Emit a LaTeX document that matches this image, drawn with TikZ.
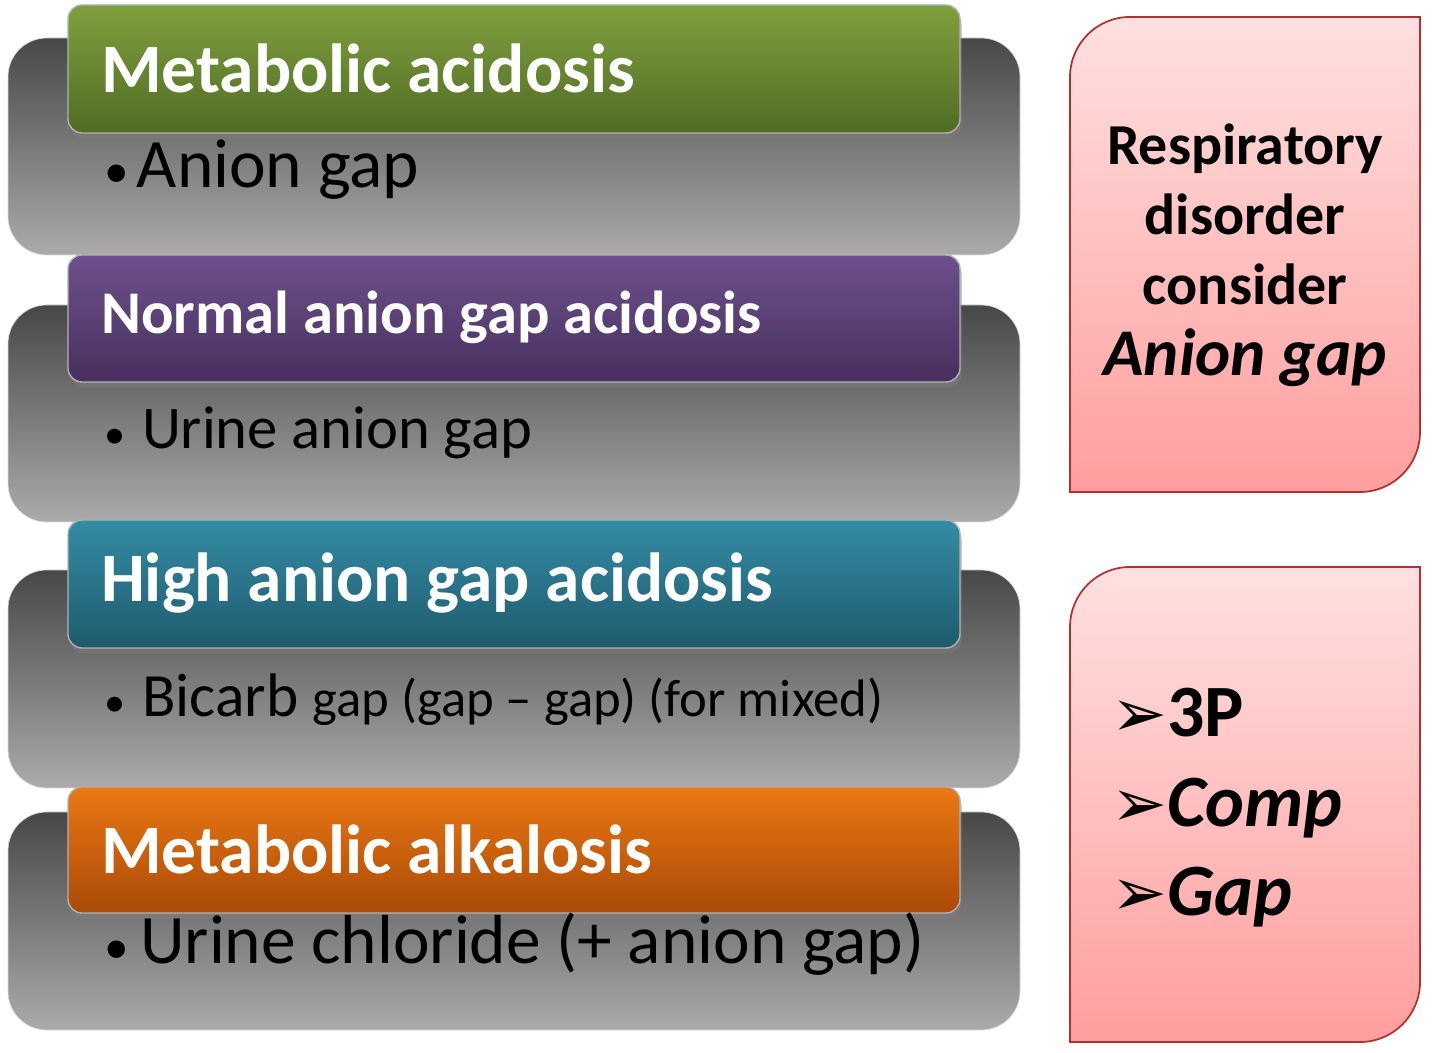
\documentclass[tikz,border=0pt]{standalone}
\usepackage{fontspec}
\setmainfont{Carlito}
\newfontfamily\dvs{DejaVu Sans}
\usetikzlibrary{shadows}
\begin{document}
\begin{tikzpicture}[x=0.02cm,y=-0.02cm,
  greybox/.style={rounded corners=22pt,top color=black!72,bottom color=black!33,draw=black!15},
  hdr/.style={rounded corners=8pt,draw=white!70!black,line width=0.8pt,drop shadow={shadow xshift=1pt,shadow yshift=-3pt,opacity=0.4}},
  hdrtext/.style={anchor=west,text=white,font=\bfseries},
  bul/.style={anchor=west,text=black},
  pinkbox/.style={top color=red!12,bottom color=red!38,draw=red!60!black!80,line width=1pt}]
\useasboundingbox (0,0) rectangle (1441,1053);
% grey boxes
\path[greybox] (8,38) rectangle (1020,255);
\path[greybox] (8,305) rectangle (1020,522);
\path[greybox] (8,570) rectangle (1020,788);
\path[greybox] (8,812) rectangle (1020,1030);
% headers
\path[hdr,top color={rgb,255:red,128;green,160;blue,62},bottom color={rgb,255:red,80;green,108;blue,36}] (68,5) rectangle (960,133);
\path[hdr,top color={rgb,255:red,110;green,80;blue,140},bottom color={rgb,255:red,70;green,48;blue,94}] (68,255) rectangle (960,382);
\path[hdr,top color={rgb,255:red,52;green,140;blue,165},bottom color={rgb,255:red,30;green,90;blue,108}] (68,520) rectangle (960,648);
\path[hdr,top color={rgb,255:red,235;green,120;blue,20},bottom color={rgb,255:red,170;green,74;blue,6}] (68,787) rectangle (960,913);
\node[hdrtext,font=\bfseries\fontsize{39.5}{44}\selectfont] (h1) at (95,68) {Metabolic acidosis};
\node[hdrtext,font=\bfseries\fontsize{34.5}{40}\selectfont] (h2) at (95,317) {Normal anion gap acidosis};
\node[hdrtext,font=\bfseries\fontsize{39.5}{44}\selectfont] (h3) at (95,583) {High anion gap acidosis};
\node[hdrtext,font=\bfseries\fontsize{39.5}{44}\selectfont] (h4) at (95,849) {Metabolic alkalosis};
% bullets
\node[bul,font=\fontsize{39.5}{44}\selectfont] (b1) at (98,170) {\fontsize{28}{30}\selectfont•\,{\fontsize{39.5}{44}\selectfont Anion gap}};
\node[bul,font=\fontsize{34.5}{40}\selectfont] (b2) at (98,433) {{\fontsize{24}{30}\selectfont•}\;Urine anion gap};
\node[bul,font=\fontsize{35}{40}\selectfont] (b3) at (98,700) {{\fontsize{24}{30}\selectfont•}\;Bicarb {\fontsize{30}{34}\selectfont gap (gap – gap) (for mixed)}};
\node[bul,font=\fontsize{39.5}{44}\selectfont] (b4) at (98,944) {{\fontsize{28}{30}\selectfont•}\,Urine chloride (+ anion gap)};
% pink boxes
\path[pinkbox] (1070,492) -- (1070,77) arc[start angle=180,end angle=270,radius=60] -- (1420,17) -- (1420,432) arc[start angle=0,end angle=90,radius=60] -- cycle;
\path[pinkbox] (1070,1042) -- (1070,627) arc[start angle=180,end angle=270,radius=60] -- (1420,567) -- (1420,982) arc[start angle=0,end angle=90,radius=60] -- cycle;
\node[align=center,font=\bfseries\fontsize{33}{40}\selectfont] (r1) at (1245,255) {Respiratory\\disorder\\consider\\{\fontsize{38}{40}\selectfont\itshape Anion gap}};
\node[anchor=west,align=left,font=\bfseries\fontsize{42}{51}\selectfont] (r2) at (1105,808) {{\dvs\mdseries\fontsize{38}{40}\selectfont ➢}3P\\{\dvs\mdseries\fontsize{38}{40}\selectfont ➢}\textit{Comp}\\{\dvs\mdseries\fontsize{38}{40}\selectfont ➢}\textit{Gap}};
\end{tikzpicture}
\end{document}
